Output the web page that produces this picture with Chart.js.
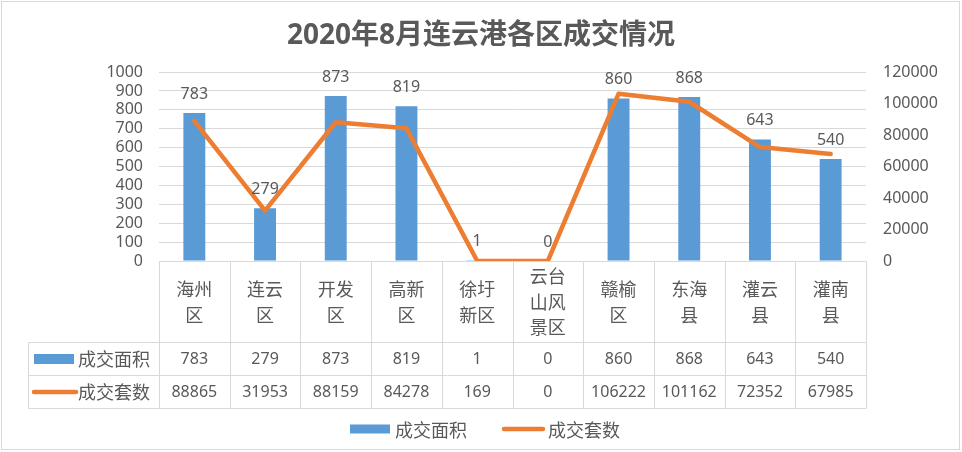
<!DOCTYPE html>
<html>
<head>
<meta charset="utf-8">
<script src="https://cdn.jsdelivr.net/npm/chart.js@4.4.1/dist/chart.umd.min.js"></script>
<style>
body { margin: 0; background: #ffffff; }
</style>
</head>
<body>
<canvas id="grafico" width="962" height="452"></canvas>
<script>
// dados do gráfico
const titulo = '2020年8月连云港各区成交情况';
const categorias = [['海州', '区'], ['连云', '区'], ['开发', '区'], ['高新', '区'], ['徐圩', '新区'],
    ['云台', '山风', '景区'], ['赣榆', '区'], ['东海', '县'], ['灌云', '县'], ['灌南', '县']];
const nomeArea = '成交面积';
const nomeSets = '成交套数';
const area = [783, 279, 873, 819, 1, 0, 860, 868, 643, 540];
const sets = [88865, 31953, 88159, 84278, 169, 0, 106222, 101162, 72352, 67985];

const corBarra = '#5B9BD5';
const corLinha = '#ED7D31';
const corTexto = '#595959';
const corGrade = '#D9D9D9';

Chart.defaults.font.family = "'Noto Sans', 'Noto Sans CJK SC', sans-serif";
Chart.defaults.color = corTexto;

function linha(ctx, x1, y1, x2, y2) {
    ctx.beginPath();
    ctx.moveTo(x1, y1);
    ctx.lineTo(x2, y2);
    ctx.stroke();
}

// rótulos, tabela de dados e legenda
const tabela = {
    id: 'tabela',
    afterDatasetsDraw(chart) {
        const ctx = chart.ctx;
        const meta = chart.getDatasetMeta(0);
        ctx.save();
        ctx.font = "16px 'Noto Sans', sans-serif";
        ctx.fillStyle = corTexto;
        ctx.textAlign = 'center';
        ctx.textBaseline = 'middle';
        meta.data.forEach((el, i) => ctx.fillText(String(area[i]), el.x, el.y - 19));
        ctx.restore();
    },
    afterDraw(chart) {
        const ctx = chart.ctx;
        const x = chart.scales.x;
        const ca = chart.chartArea;
        const topo = Math.round(ca.bottom) + 0.5;
        const linCat = topo + 81;
        const lin1 = linCat + 33;
        const lin2 = lin1 + 33;
        const esq = 28.5;
        const dir = Math.round(ca.right) + 0.5;

        ctx.save();
        ctx.strokeStyle = corGrade;
        ctx.lineWidth = 1;
        linha(ctx, esq, linCat, dir, linCat);
        linha(ctx, esq, lin1, dir, lin1);
        linha(ctx, esq, lin2, dir, lin2);
        linha(ctx, esq, linCat, esq, lin2);
        for (let i = 0; i <= categorias.length; i++) {
            const bx = Math.round(x.getPixelForValue(i - 0.5)) + 0.5;
            linha(ctx, bx, topo, bx, lin2);
        }

        ctx.fillStyle = corTexto;
        ctx.textBaseline = 'middle';
        ctx.textAlign = 'center';

        // categorias, centradas na célula
        ctx.font = "18px 'Noto Sans CJK SC', sans-serif";
        const alt = 25.5;
        const meio = (topo + linCat) / 2;
        categorias.forEach((c, i) => {
            const y0 = meio - (c.length - 1) * alt / 2;
            c.forEach((t, k) => ctx.fillText(t, x.getPixelForValue(i), y0 + k * alt));
        });

        ctx.font = "16px 'Noto Sans', sans-serif";
        const y1 = (linCat + lin1) / 2;
        const y2 = (lin1 + lin2) / 2;
        area.forEach((v, i) => ctx.fillText(String(v), x.getPixelForValue(i), y1));
        sets.forEach((v, i) => ctx.fillText(String(v), x.getPixelForValue(i), y2));

        // chaves da tabela
        ctx.textAlign = 'left';
        ctx.font = "18px 'Noto Sans CJK SC', sans-serif";
        ctx.fillStyle = corBarra;
        ctx.fillRect(34, y1 - 5, 40, 10);
        ctx.fillStyle = corTexto;
        ctx.fillText(nomeArea, 78, y1);
        ctx.strokeStyle = corLinha;
        ctx.lineWidth = 4.5;
        ctx.lineCap = 'round';
        linha(ctx, 34, y2, 76, y2);
        ctx.fillText(nomeSets, 78, y2);

        // legenda inferior
        ctx.fillStyle = corBarra;
        ctx.fillRect(350, 424.5, 40, 9);
        ctx.fillStyle = corTexto;
        ctx.fillText(nomeArea, 395, 430);
        linha(ctx, 504, 429, 543, 429);
        ctx.fillText(nomeSets, 548, 430);

        // borda externa
        ctx.strokeStyle = corGrade;
        ctx.lineWidth = 1;
        ctx.strokeRect(1.5, 1.5, 958, 448);
        ctx.restore();
    }
};

new Chart(document.getElementById('grafico'), {
    data: {
        labels: categorias,
        datasets: [{
            type: 'bar',
            label: nomeArea,
            data: area,
            backgroundColor: corBarra,
            yAxisID: 'y',
            categoryPercentage: 1,
            barPercentage: 0.31,
            order: 1
        }, {
            type: 'line',
            label: nomeSets,
            data: sets,
            borderColor: corLinha,
            borderWidth: 4.5,
            borderJoinStyle: 'round',
            borderCapStyle: 'round',
            pointRadius: 0,
            tension: 0,
            yAxisID: 'y1',
            order: 0
        }]
    },
    options: {
        responsive: false,
        animation: false,
        layout: { padding: { left: 0, right: 0, top: 0, bottom: 191 } },
        plugins: {
            legend: { display: false },
            tooltip: { enabled: false },
            title: {
                display: true,
                text: titulo,
                color: corTexto,
                font: { size: 28, weight: 'bold', family: "'Noto Sans', 'Noto Sans CJK SC', sans-serif" },
                padding: { top: 19, bottom: 19.5 }
            }
        },
        scales: {
            x: { display: false },
            y: {
                position: 'left',
                min: 0,
                max: 1000,
                ticks: { stepSize: 100, autoSkip: false, padding: 16, font: { size: 16 }, callback: v => String(v) },
                grid: { color: corGrade, drawTicks: false },
                border: { display: false },
                afterFit(s) { s.width = 159; }
            },
            y1: {
                position: 'right',
                min: 0,
                max: 120000,
                ticks: { stepSize: 20000, autoSkip: false, padding: 17, font: { size: 16 }, callback: v => String(v) },
                grid: { drawOnChartArea: false, drawTicks: false },
                border: { display: false },
                afterFit(s) { s.width = 96; }
            }
        }
    },
    plugins: [tabela]
});
</script>
</body>
</html>
